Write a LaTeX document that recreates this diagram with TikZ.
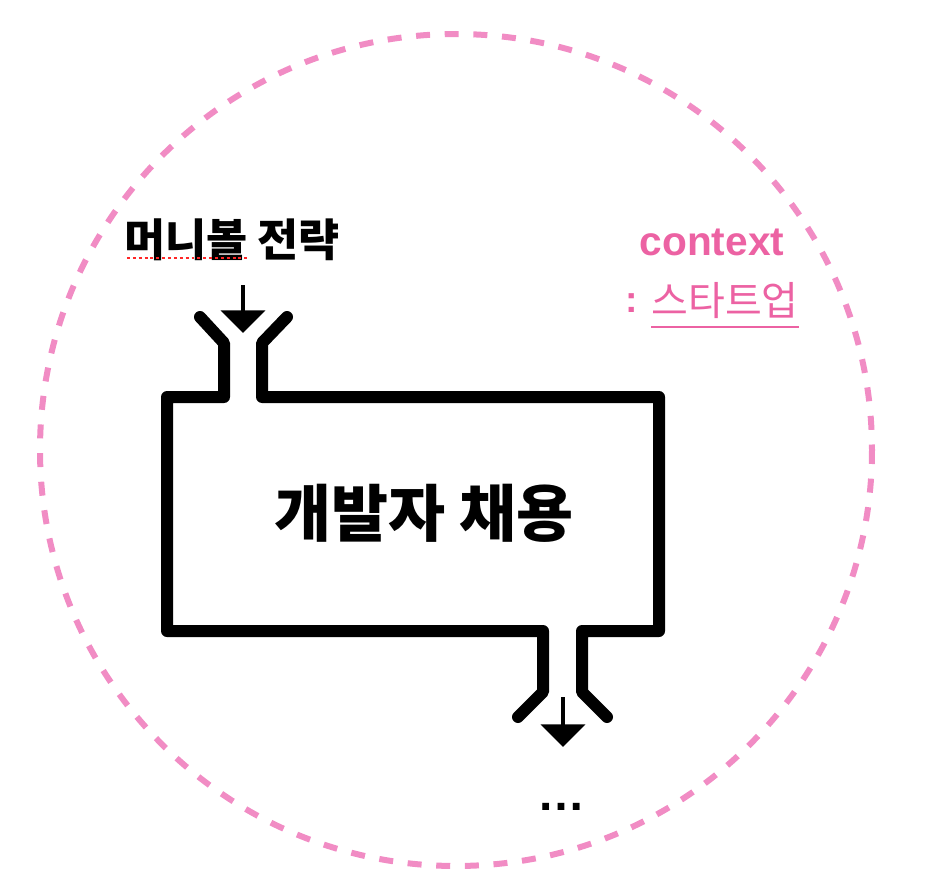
\documentclass[tikz,border=0pt]{standalone}
\usepackage{fontspec}
\setmainfont{Liberation Sans}
\newfontfamily\kr{Noto Sans CJK KR}
\usetikzlibrary{positioning,arrows.meta}
\definecolor{ctxpink}{RGB}{236,98,163}
\definecolor{ringpink}{RGB}{241,140,196}

\begin{document}
\begin{tikzpicture}[x=0.75pt,y=-0.75pt,
  wall/.style={line width=9pt,line join=round,line cap=round},
  flow/.style={line width=3pt,-{Triangle[width=33pt,length=17pt]}},
  ctx/.style={ctxpink,inner sep=0pt}]
  \useasboundingbox (0,0) rectangle (926,892);
  % the context ring
  \draw[ringpink,line width=4.5pt,dash pattern=on 10.5pt off 11pt] (456,450) circle[radius=416];
  \node[ctx,anchor=base,font=\bfseries\fontsize{30.5}{34}\selectfont] (context) at (712,255) {context};
  \node[ctx,anchor=base,font=\kr\fontsize{30}{34}\selectfont] (startup) at (725,315) {스타트업};
  \node[ctx,anchor=base east,font=\bfseries\fontsize{28}{32}\selectfont] (colon) at (638,312) {:};
  \draw[ctxpink,line width=1.7pt] ([yshift=-9pt]startup.base west) -- ([yshift=-9pt]startup.base east);
  % the process box
  \draw[wall] (200,317) -- (224,343) -- (224,397) -- (167,397) -- (167,631)
    -- (543,631) -- (543,692) -- (518,717);
  \draw[wall] (287,317) -- (262,343) -- (262,397) -- (659,397) -- (659,631)
    -- (582,631) -- (582,692) -- (607,717);
  \node[inner sep=0pt,font=\kr\bfseries\fontsize{46.5}{52}\selectfont] (task) at (424,513) {개발자 채용};
  % input and output
  \node[inner sep=0pt,anchor=base west,font=\kr\bfseries\fontsize{33.5}{38}\selectfont] (input) at (124,256) {머니볼 전략};
  \draw[red!85,line width=1.5pt,dash pattern=on 2.2pt off 2.2pt] (127,258) -- (247,258);
  \coordinate (in) at (243,285);
  \coordinate (inlet) at (243,333);
  \draw[flow] (in) -- (inlet);
  \coordinate (outlet) at (563,697);
  \coordinate (out) at (563,747);
  \draw[flow] (outlet) -- (out);
  \node[inner sep=0pt,anchor=base,font=\bfseries\fontsize{36}{40}\selectfont] (more) at (561,810) {…};
\end{tikzpicture}
\end{document}
